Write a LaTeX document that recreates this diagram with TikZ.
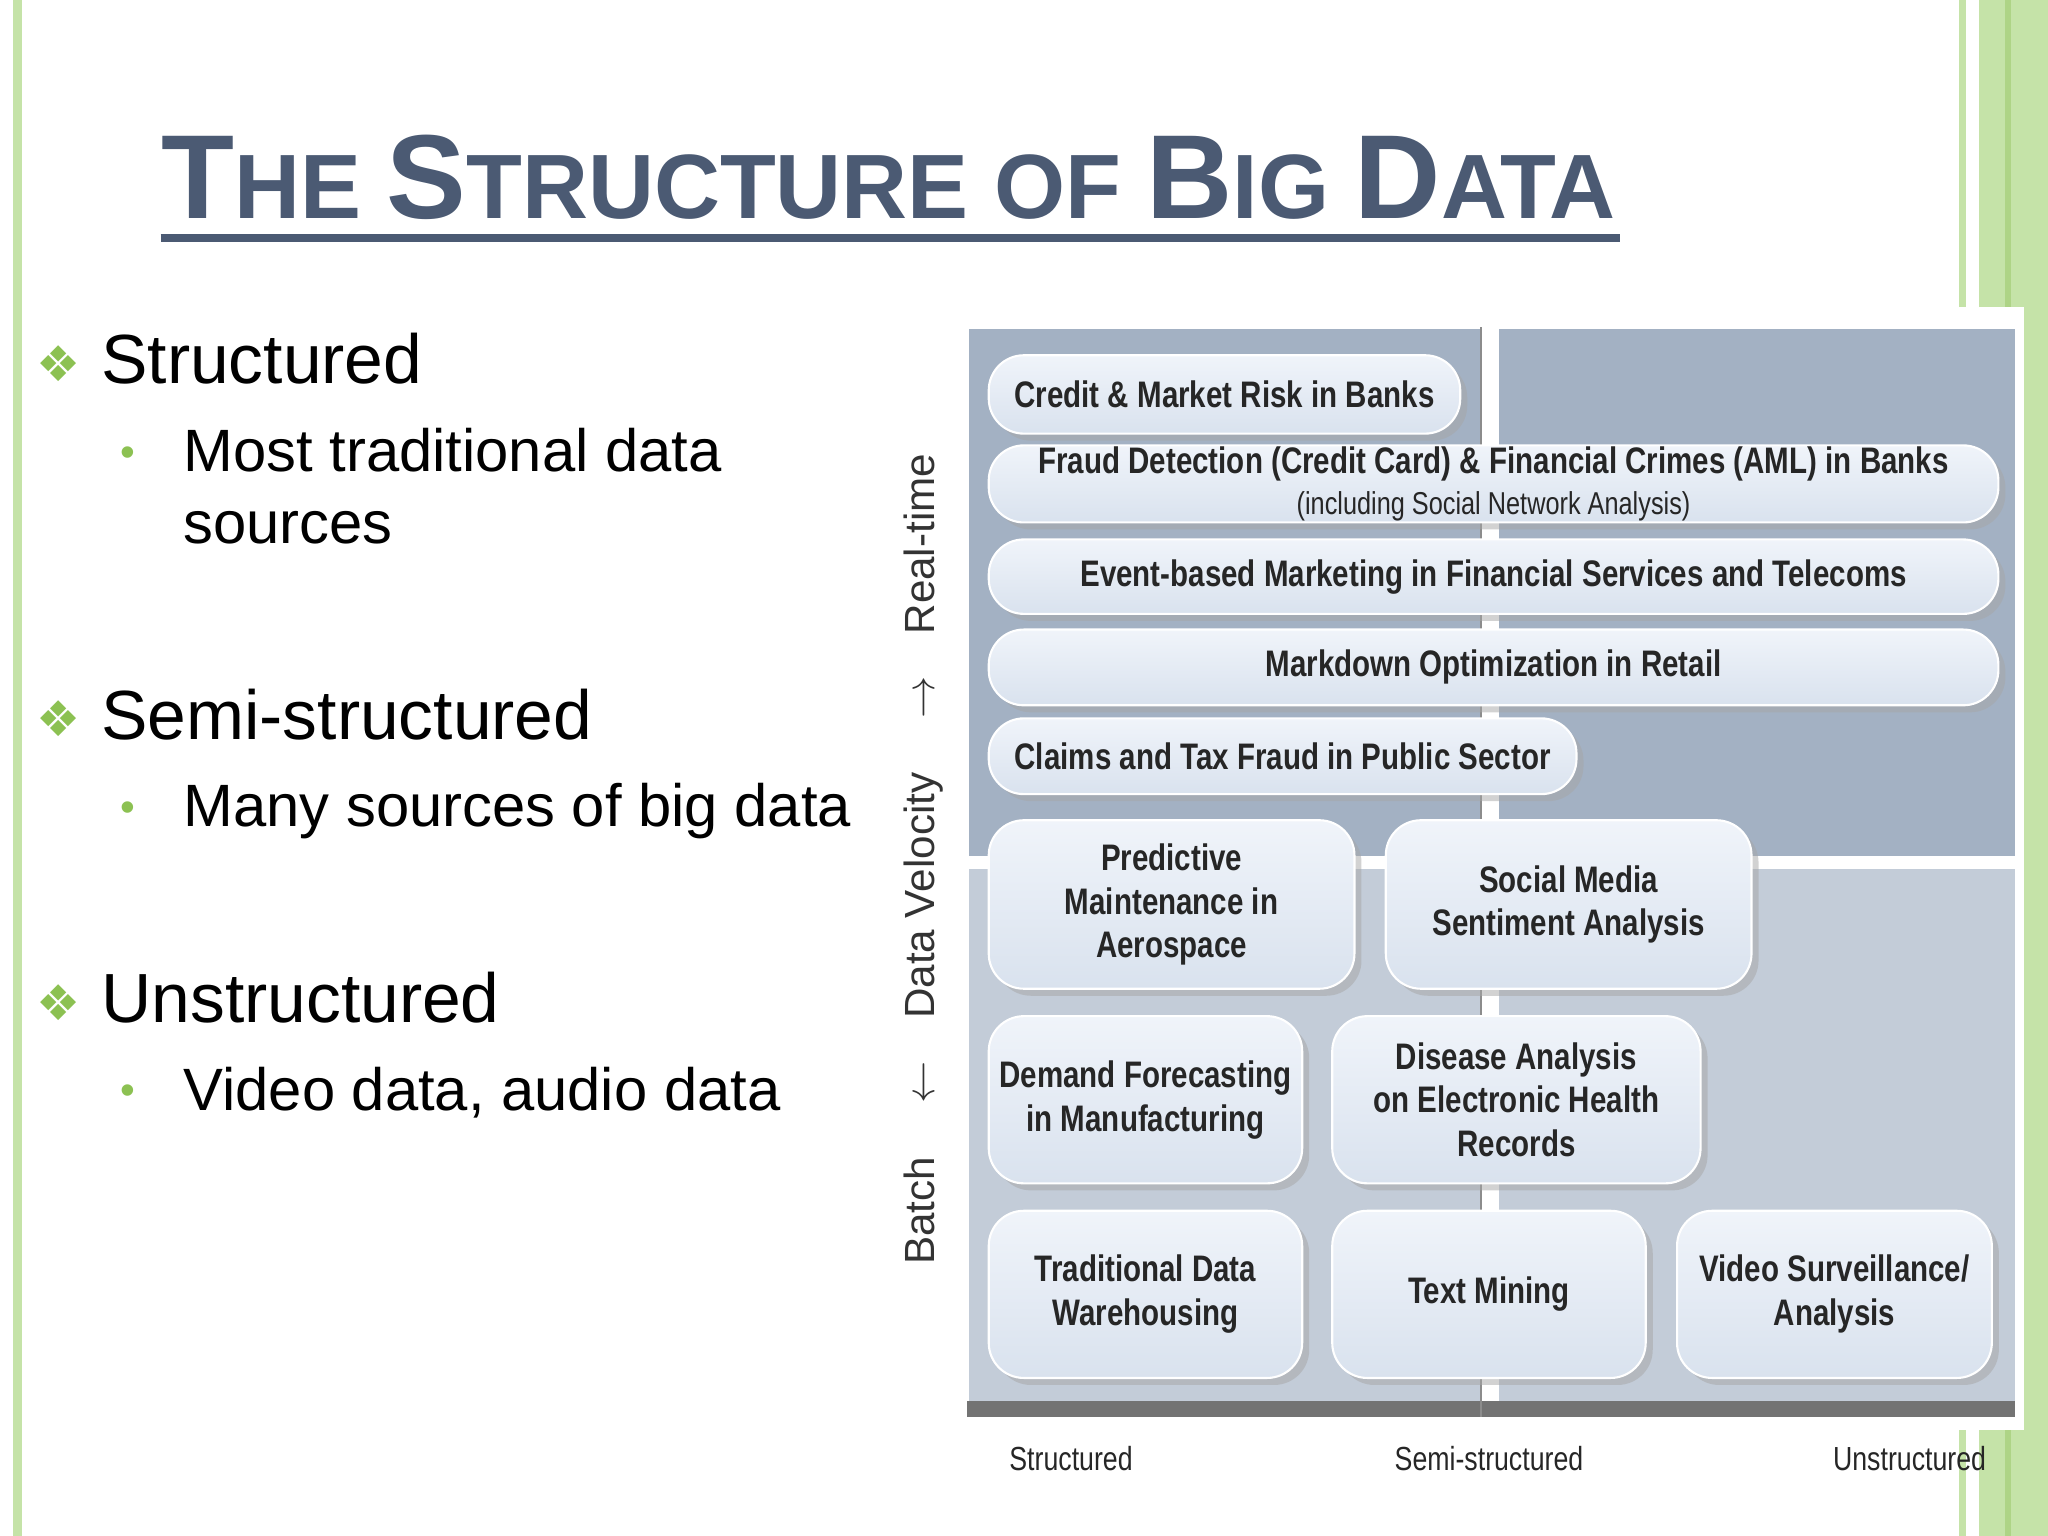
\documentclass[tikz,border=0pt]{standalone}
\usepackage{fontspec}
\setmainfont{Liberation Sans}
\newfontfamily\djvfont{DejaVu Sans}
\newfontfamily\cond{Liberation Sans}[FakeStretch=0.8]
\usetikzlibrary{shadows}
\definecolor{titlec}{HTML}{4B5A73}
\definecolor{grn}{HTML}{8CC152}
\definecolor{lgrn}{HTML}{C5E3A8}
\definecolor{up}{HTML}{A3B1C3}
\definecolor{low}{HTML}{C3CCD8}
\definecolor{boxt}{HTML}{F0F4FA}
\definecolor{boxb}{HTML}{D9E2EE}
\tikzset{
  x=0.013061cm,y=-0.013061cm,
  bx/.style={rounded corners=10pt,top color=boxt,bottom color=boxb,draw=white,line width=0.6pt,
    drop shadow={shadow xshift=2pt,shadow yshift=-2pt,fill=black!35,opacity=0.5},
    font=\cond\bfseries\fontsize{10.5}{12.5}\selectfont,text=black!85,align=center,inner sep=0pt},
  bul/.style={anchor=base west,font=\fontsize{19.8}{24}\selectfont,inner sep=0pt},
  sub/.style={anchor=base west,font=\fontsize{17}{21}\selectfont,inner sep=0pt,align=left},
  sym/.style={anchor=base,text=grn,font=\djvfont\fontsize{14}{14}\selectfont,inner sep=0pt},
  dot/.style={anchor=base,text=grn,font=\fontsize{12}{12}\selectfont,inner sep=0pt},
  xl/.style={font=\cond\fontsize{9.5}{11}\selectfont,text=black!85,inner sep=0pt}
}
\newcommand{\bx}[6]{\node[bx,minimum width={(#3-#2)*0.013061cm},minimum height={(#5-#4)*0.013061cm}] (#1) at ({(#2+#3)/2},{(#4+#5)/2}) {#6};}
\begin{document}
\begin{tikzpicture}
\useasboundingbox (0,0) rectangle (1568,1176);
\fill[white] (0,0) rectangle (1568,1176);
% side stripes
\fill[lgrn] (10,0) rectangle (17,1176);
\fill[lgrn] (1500,0) rectangle (1505,1176);
\fill[lgrn] (1515,0) rectangle (1568,1176);
\fill[grn!70] (1535,0) rectangle (1540,1176);
% title
\node[anchor=base west,inner sep=0pt,text=titlec,font=\bfseries] (title) at (123,167)
 {\fontsize{34}{40}\selectfont T\fontsize{26}{30}\selectfont HE \fontsize{34}{40}\selectfont S\fontsize{26}{30}\selectfont TRUCTURE OF \fontsize{34}{40}\selectfont B\fontsize{26}{30}\selectfont IG \fontsize{34}{40}\selectfont D\fontsize{26}{30}\selectfont ATA};
\draw[titlec,line width=2.2pt] (123,182) -- (1240,182);
% bullets
\node[sym] (s1) at (45,292) {❖};
\node[bul] (b1) at (77,294) {Structured};
\node[dot] (d1) at (98,357) {•};
\node[sub] (t1) at (140,361) {Most traditional data};
\node[sub] (t1b) at (140,416) {sources};
\node[sym] (s2) at (45,564) {❖};
\node[bul] (b2) at (77,566) {Semi-structured};
\node[dot] (d2) at (98,629) {•};
\node[sub] (t2) at (140,633) {Many sources of big data};
\node[sym] (s3) at (45,781) {❖};
\node[bul] (b3) at (77,783) {Unstructured};
\node[dot] (d3) at (98,846) {•};
\node[sub] (t3) at (140,850) {Video data, audio data};
% chart background
\fill[white] (735,235) rectangle (1550,1095);
\fill[up] (742,252) rectangle (1543,655);
\fill[low] (742,665) rectangle (1543,1078);
\fill[white] (1133,250) rectangle (1148,1085);
\fill[white] (742,656) rectangle (1543,664);
\fill[black!55] (740,1073) rectangle (1543,1085);
\fill[black!45] (1133,250) rectangle (1135,1085);
% boxes
\bx{c1}{757}{1118}{272}{332}{Credit \& Market Risk in Banks}
\bx{c2}{757}{1530}{341}{400}{Fraud Detection (Credit Card) \& Financial Crimes (AML) in Banks\\[-1pt]{\mdseries\fontsize{9}{10}\selectfont(including Social Network Analysis)}}
\bx{c3}{757}{1530}{413}{470}{Event-based Marketing in Financial Services and Telecoms}
\bx{c4}{757}{1530}{482}{540}{Markdown Optimization in Retail}
\bx{c5}{757}{1207}{550}{608}{Claims and Tax Fraud in Public Sector}
\bx{c6}{757}{1037}{628}{757}{Predictive\\Maintenance in\\Aerospace}
\bx{c7}{1061}{1341}{628}{757}{Social Media\\Sentiment Analysis}
\bx{c8}{757}{997}{778}{906}{Demand Forecasting\\in Manufacturing}
\bx{c9}{1020}{1302}{778}{906}{Disease Analysis\\on Electronic Health\\Records}
\bx{c10}{757}{997}{927}{1055}{Traditional Data\\Warehousing}
\bx{c11}{1020}{1260}{927}{1055}{Text Mining}
\bx{c12}{1284}{1525}{927}{1055}{Video Surveillance/\\Analysis}
% axes labels
\node[rotate=90,font=\fontsize{12}{14}\selectfont,text=black!80,inner sep=0pt] (yl) at (707,658)
 {Batch \quad$\leftarrow$\quad Data Velocity \quad$\rightarrow$\quad Real-time};
\node[xl] (x1) at (820,1117) {Structured};
\node[xl] (x2) at (1140,1117) {Semi-structured};
\node[xl] (x3) at (1462,1117) {Unstructured};
\end{tikzpicture}
\end{document}
